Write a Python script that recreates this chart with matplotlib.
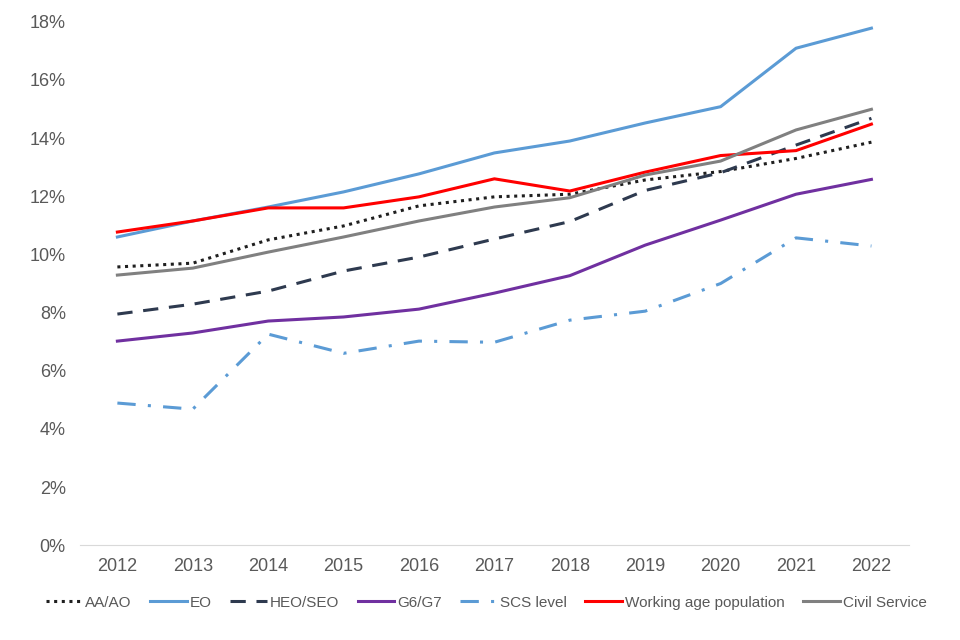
import matplotlib.pyplot as plt
from matplotlib.ticker import FuncFormatter

plt.rcParams['font.family'] = ['Liberation Sans', 'DejaVu Sans']

years = ['2012', '2013', '2014', '2015', '2016', '2017', '2018', '2019', '2020', '2021', '2022']

aa_ao = [9.57, 9.7, 10.5, 10.98, 11.67, 11.98, 12.07, 12.56, 12.85, 13.3, 13.86]
eo = [10.6, 11.15, 11.63, 12.15, 12.77, 13.49, 13.9, 14.52, 15.08, 17.09, 17.78]
heo_seo = [7.95, 8.29, 8.74, 9.43, 9.91, 10.53, 11.13, 12.2, 12.81, 13.76, 14.68]
g6_g7 = [7.02, 7.3, 7.71, 7.85, 8.12, 8.67, 9.27, 10.32, 11.18, 12.07, 12.58]
scs = [4.89, 4.68, 7.26, 6.6, 7.02, 6.98, 7.74, 8.05, 9.0, 10.57, 10.29]
working_age = [10.77, 11.15, 11.6, 11.6, 11.98, 12.6, 12.18, 12.83, 13.4, 13.57, 14.48]
civil_service = [9.29, 9.53, 10.08, 10.6, 11.15, 11.63, 11.95, 12.73, 13.21, 14.28, 14.99]

fig = plt.figure(figsize=(9.6, 6.4), dpi=100)
ax = fig.add_axes([0.083, 0.148, 0.864, 0.818])

x = range(len(years))
lw = 2.2
ax.plot(x, aa_ao, color='#1f1f1f', lw=lw, linestyle=(0, (1, 1.5)), label='AA/AO')
ax.plot(x, eo, color='#5b9bd5', lw=lw, label='EO')
ax.plot(x, heo_seo, color='#2e3a4f', lw=lw, linestyle=(0, (5, 3.5)), label='HEO/SEO')
ax.plot(x, g6_g7, color='#7030a0', lw=lw, label='G6/G7')
ax.plot(x, scs, color='#5b9bd5', lw=lw, linestyle=(0, (6, 4, 1, 4)), label='SCS level')
ax.plot(x, working_age, color='#ff0000', lw=lw, label='Working age population')
ax.plot(x, civil_service, color='#808080', lw=lw, label='Civil Service')

ax.set_xlim(-0.5, len(years) - 0.5)
ax.set_ylim(0, 18)
ax.set_xticks(list(x))
ax.set_xticklabels(years)
ax.set_yticks(range(0, 19, 2))
ax.yaxis.set_major_formatter(FuncFormatter(lambda v, p: f'{int(v)}%'))

for s in ['top', 'right', 'left']:
    ax.spines[s].set_visible(False)
ax.spines['bottom'].set_color('#d9d9d9')
ax.tick_params(axis='both', length=0, labelsize=13, colors='#595959', pad=9)
ax.tick_params(axis='y', pad=10)

ax.legend(loc='upper center', bbox_to_anchor=(0.49, -0.07), ncol=7, frameon=False,
          fontsize=11, handlelength=2.4, handletextpad=0.2, columnspacing=1.2,
          labelcolor='#595959')

fig.savefig('out.png', dpi=100)
